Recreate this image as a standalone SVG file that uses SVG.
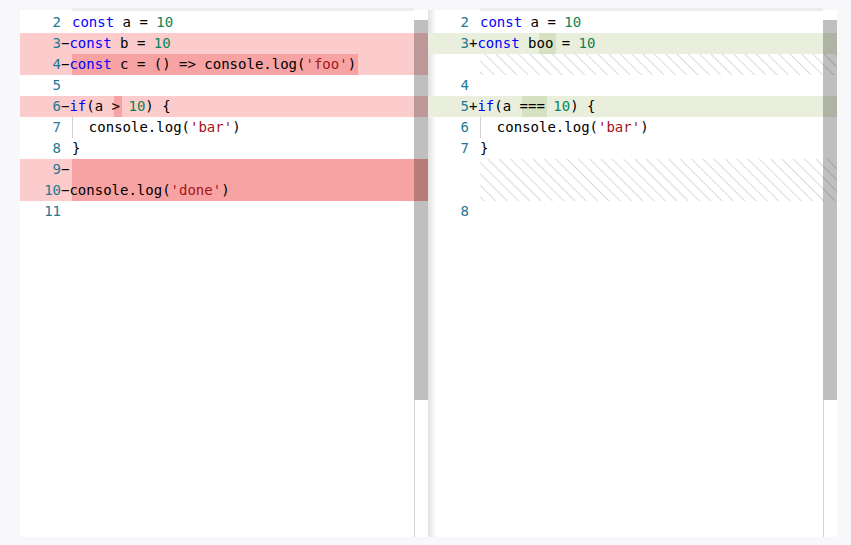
<svg xmlns="http://www.w3.org/2000/svg" width="851" height="545" viewBox="0 0 851 545">
<defs>
<style>
text{font-family:"DejaVu Sans Mono","Liberation Mono",monospace;font-size:14px;fill:#000;white-space:pre}
.ln{fill:#237893;text-anchor:end}
.kw{fill:#0000ff}.num{fill:#098658}.str{fill:#a31515}
.del{fill:#fccbcb}.delc{fill:#f7a3a3}.ins{fill:#e9efdc}.insc{fill:#d5e1c0}
</style>
<pattern id="hatch" width="8" height="8" patternUnits="userSpaceOnUse" patternTransform="rotate(-45)">
<rect width="8" height="8" fill="#fff"/><line x1="0" y1="0" x2="0" y2="8" stroke="#cfcfcf" stroke-width="1.5"/>
</pattern>
<linearGradient id="sh" x1="0" x2="1"><stop offset="0" stop-color="#000" stop-opacity="0.12"/><stop offset="1" stop-color="#000" stop-opacity="0"/></linearGradient>
</defs>
<rect width="851" height="545" fill="#f8f8fa"/>
<g id="left">
<rect x="20" y="10" width="408" height="527" fill="#fff"/>
<rect x="72" y="8" width="342" height="3" fill="#ececec"/>
<rect x="20" y="33" width="408" height="42" class="del"/>
<rect x="72" y="54" width="286" height="21" class="delc"/>
<rect x="20" y="96" width="408" height="21" class="del"/>
<rect x="114" y="96" width="8" height="21" class="delc"/>
<rect x="20" y="159" width="408" height="42" class="del"/>
<rect x="72" y="159" width="356" height="42" class="delc"/>
<rect x="72" y="117" width="1" height="21" fill="#d0d0d0"/>
<text class="ln" x="61" y="27">2</text><text x="72" y="27"><tspan class="kw">const</tspan> a = <tspan class="num">10</tspan></text>
<text class="ln" x="61" y="48">3</text><text x="61" y="48">−<tspan class="kw">const</tspan> b = <tspan class="num">10</tspan></text>
<text class="ln" x="61" y="69">4</text><text x="61" y="69">−<tspan class="kw">const</tspan> c = () =&gt; console.log(<tspan class="str">'foo'</tspan>)</text>
<text class="ln" x="61" y="90">5</text>
<text class="ln" x="61" y="111">6</text><text x="61" y="111">−<tspan class="kw">if</tspan>(a &gt; <tspan class="num">10</tspan>) {</text>
<text class="ln" x="61" y="132">7</text><text x="72" y="132">  console.log(<tspan class="str">'bar'</tspan>)</text>
<text class="ln" x="61" y="153">8</text><text x="72" y="153">}</text>
<text class="ln" x="61" y="174">9</text><text x="61" y="174">−</text>
<text class="ln" x="61" y="195">10</text><text x="61" y="195">−console.log(<tspan class="str">'done'</tspan>)</text>
<text class="ln" x="61" y="216">11</text>
<rect x="414" y="20" width="14" height="380" fill="#000" opacity="0.25"/>
<rect x="414" y="400" width="1" height="137" fill="#d4d4d4"/>
</g>
<g id="right">
<rect x="428" y="10" width="409" height="527" fill="#fff"/>
<rect x="428" y="10" width="8" height="527" fill="url(#sh)"/>
<rect x="480" y="8" width="343" height="3" fill="#ececec"/>
<rect x="428" y="33" width="409" height="21" class="ins"/>
<rect x="539" y="33" width="17" height="21" class="insc"/>
<rect x="480" y="54" width="357" height="21" fill="url(#hatch)"/>
<rect x="428" y="96" width="409" height="21" class="ins"/>
<rect x="522" y="96" width="25" height="21" class="insc"/>
<rect x="480" y="159" width="357" height="42" fill="url(#hatch)"/>
<rect x="480" y="117" width="1" height="21" fill="#d0d0d0"/>
<text class="ln" x="469" y="27">2</text><text x="480" y="27"><tspan class="kw">const</tspan> a = <tspan class="num">10</tspan></text>
<text class="ln" x="469" y="48">3</text><text x="469" y="48">+<tspan class="kw">const</tspan> boo = <tspan class="num">10</tspan></text>
<text class="ln" x="469" y="90">4</text>
<text class="ln" x="469" y="111">5</text><text x="469" y="111">+<tspan class="kw">if</tspan>(a === <tspan class="num">10</tspan>) {</text>
<text class="ln" x="469" y="132">6</text><text x="480" y="132">  console.log(<tspan class="str">'bar'</tspan>)</text>
<text class="ln" x="469" y="153">7</text><text x="480" y="153">}</text>
<text class="ln" x="469" y="216">8</text>
<rect x="823" y="20" width="14" height="380" fill="#000" opacity="0.25"/>
<rect x="823" y="400" width="1" height="137" fill="#d4d4d4"/>
</g>
</svg>
